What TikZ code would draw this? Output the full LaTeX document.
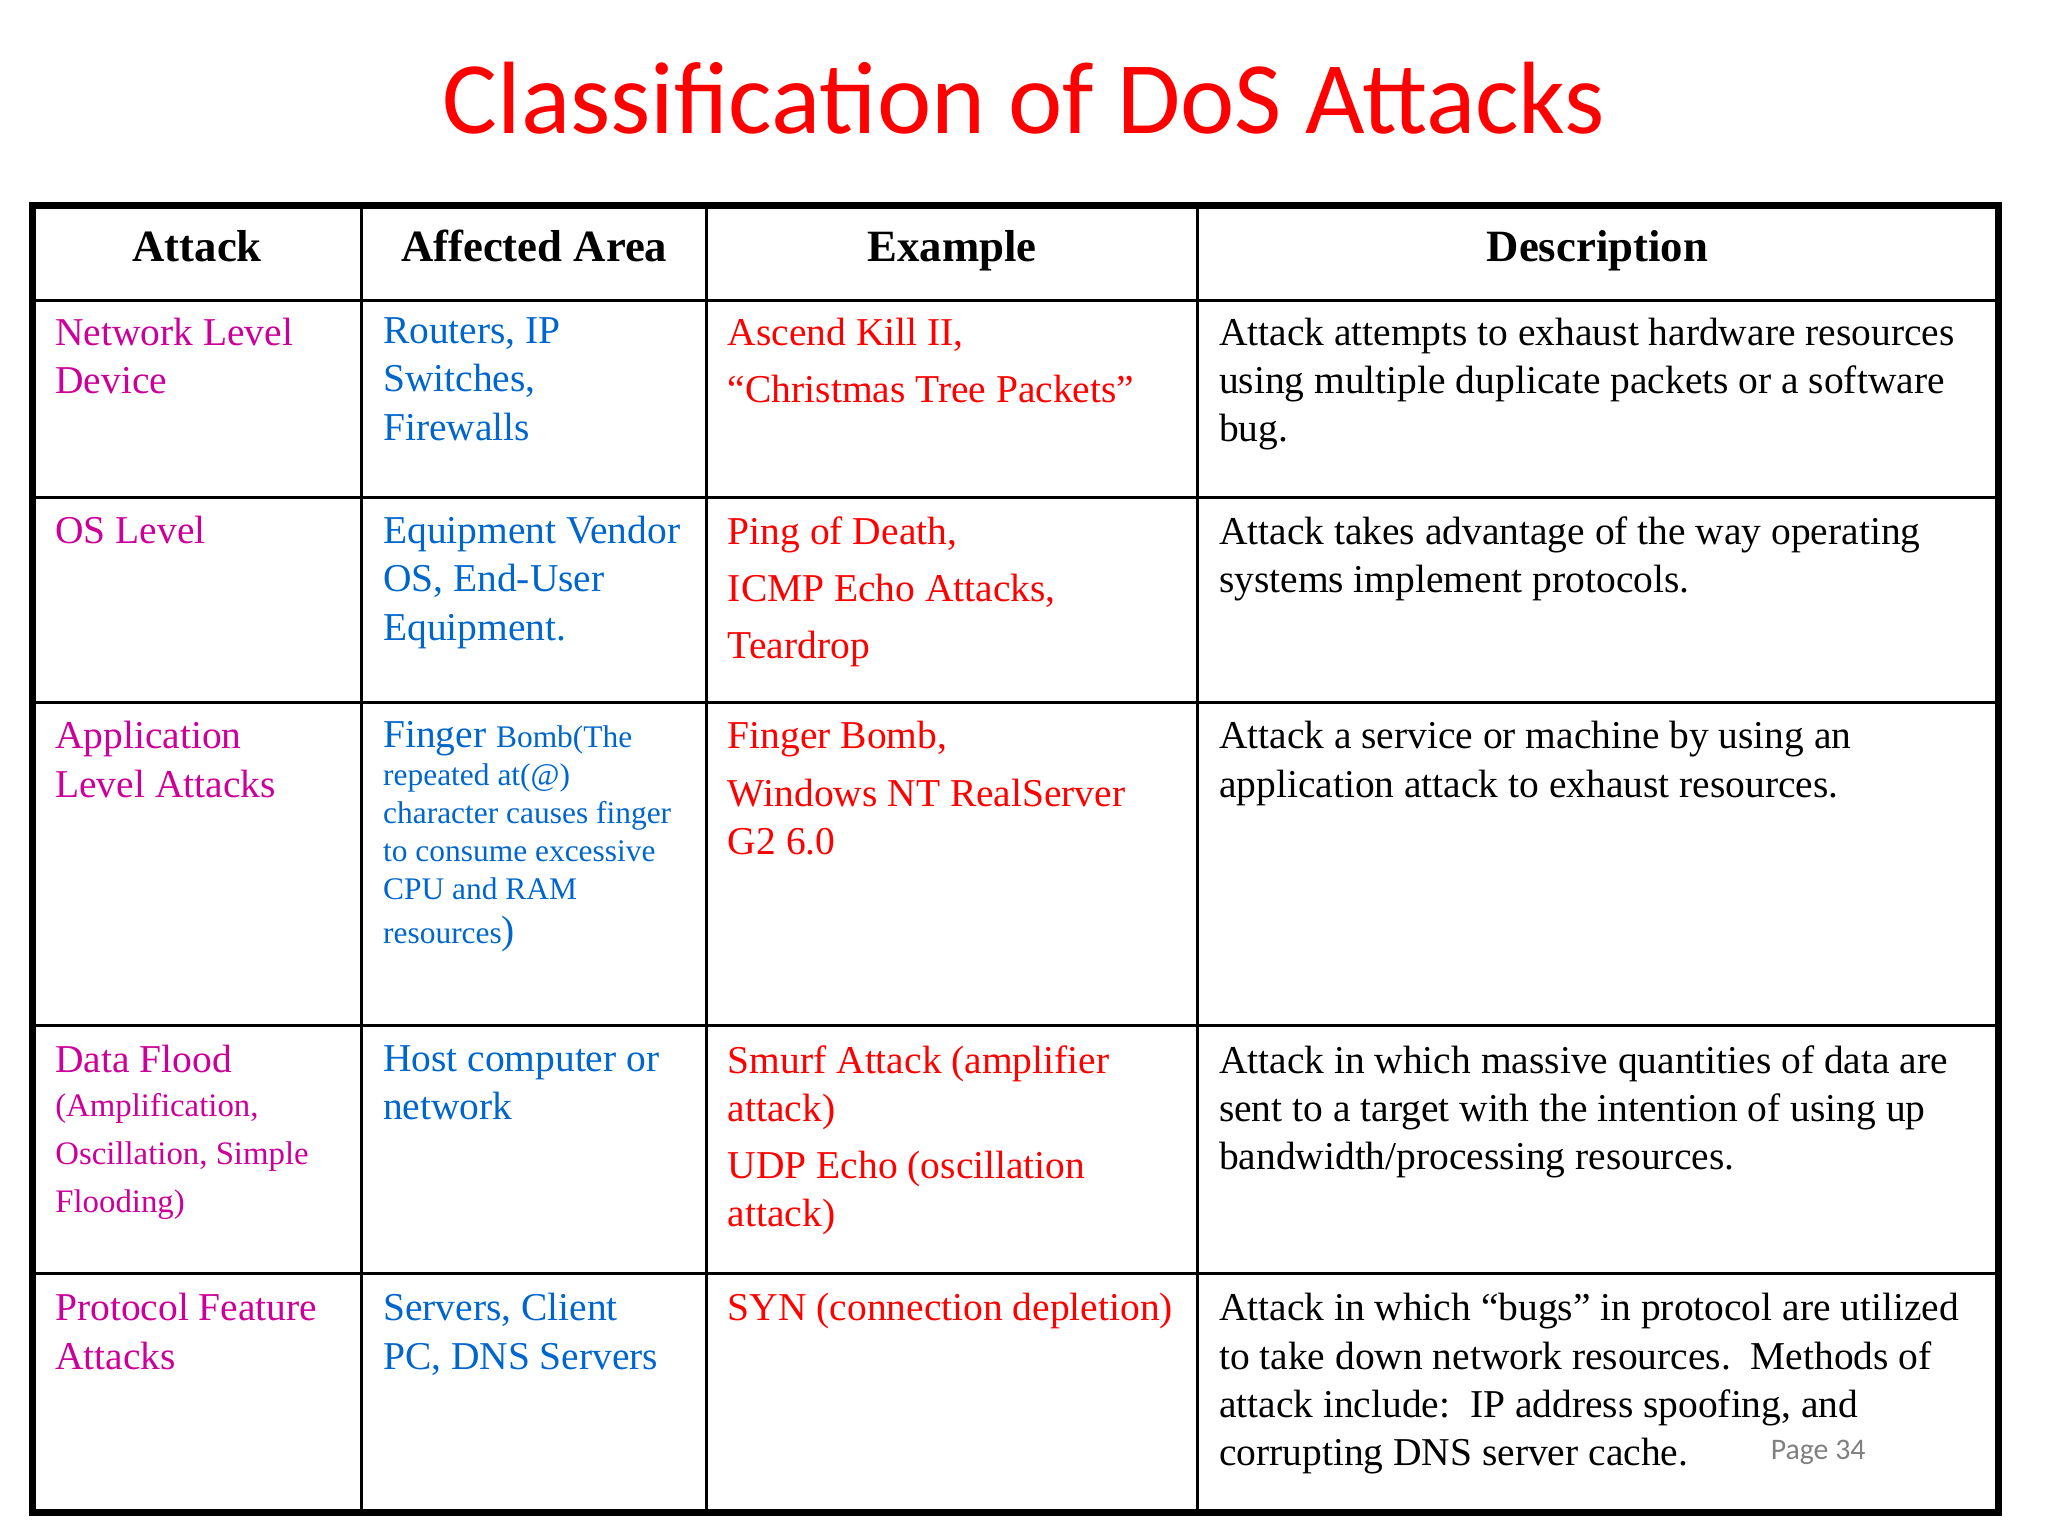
\documentclass[tikz,border=0pt]{standalone}
\usepackage{fontspec}
\setmainfont{Liberation Serif}
\newfontfamily\calfont{Carlito}
\definecolor{cmag}{RGB}{204,0,153}
\definecolor{cblue}{RGB}{0,102,204}
\definecolor{cred}{RGB}{255,0,0}
\newcommand{\bigf}{\fontsize{17.2}{16.5}\selectfont}
\newcommand{\smf}{\fontsize{13.7}{16.5}\selectfont}
\newcommand{\dff}{\fontsize{14.3}{17.5}\selectfont}
\begin{document}
\begin{tikzpicture}[x=0.02cm,y=-0.02cm,
  cell/.style={anchor=north west,inner sep=0pt,align=left,font=\fontsize{17.2}{21}\selectfont},
  ex/.style={cell,font=\fontsize{17.2}{25}\selectfont,text=cred},
  hd/.style={anchor=base,font=\fontsize{19.5}{20}\selectfont\bfseries},
  grid/.style={line width=1.2pt}]
\useasboundingbox (0,0) rectangle (1568,1176);
\node[font=\calfont\fontsize{44.8}{56}\selectfont,text=cred] (title) at (784,75) {Classification of DoS Attacks};
% grid
\draw[line width=3pt] (25,157) rectangle (1530,1158);
\foreach \x in {277,541,917} \draw[grid] (\x,157) -- (\x,1158);
\foreach \y in {230,381,538,785,975} \draw[grid] (25,\y) -- (1530,\y);
% headers
\node[hd] (h1) at (151,200) {Attack};
\node[hd] (h2) at (409,200) {Affected Area};
\node[hd] (h3) at (729,200) {Example};
\node[hd] (h4) at (1223,200) {Description};
% row 1
\node[cell,text=cmag] (a1) at (42,243) {Network Level\\Device};
\node[cell,text=cblue] (b1) at (293,243) {Routers, IP\\Switches,\\Firewalls};
\node[ex] (c1) at (557,243) {Ascend Kill II,\\``Christmas Tree Packets''};
\node[cell] (d1) at (933,243) {Attack attempts to exhaust hardware resources\\using multiple duplicate packets or a software\\bug.};
% row 2
\node[cell,text=cmag] (a2) at (42,395) {OS Level};
\node[cell,text=cblue] (b2) at (293,395) {Equipment Vendor\\OS, End-User\\Equipment.};
\node[ex] (c2) at (557,395) {Ping of Death,\\ICMP Echo Attacks,\\Teardrop};
\node[cell] (d2) at (933,395) {Attack takes advantage of the way operating\\systems implement protocols.};
% row 3
\node[cell,text=cmag] (a3) at (42,552) {Application\\Level Attacks};
\node[cell,text=cblue,font=\smf] (b3) at (293,552) {\bigf Finger \smf Bomb(The\\repeated at(@)\\character causes finger\\to consume excessive\\CPU and RAM\\[3pt]resources\bigf )};
\node[ex] (c3) at (557,552) {Finger Bomb,\\Windows NT RealServer\\[-4pt]G2 6.0};
\node[cell] (d3) at (933,552) {Attack a service or machine by using an\\application attack to exhaust resources.};
% row 4
\node[cell,text=cmag] (a4) at (42,800) {Data Flood\\[-2pt]\dff (Amplification,\\\dff Oscillation, Simple\\\dff Flooding)};
\node[cell,text=cblue] (b4) at (293,800) {Host computer or\\network};
\node[ex,font=\fontsize{17.2}{21}\selectfont] (c4) at (557,800) {Smurf Attack (amplifier\\attack)\\[4pt]UDP Echo (oscillation\\attack)};
\node[cell] (d4) at (933,800) {Attack in which massive quantities of data are\\sent to a target with the intention of using up\\bandwidth/processing resources.};
% row 5
\node[cell,text=cmag] (a5) at (42,990) {Protocol Feature\\Attacks};
\node[cell,text=cblue] (b5) at (293,990) {Servers, Client\\PC, DNS Servers};
\node[ex] (c5) at (557,990) {SYN (connection depletion)};
\node[cell] (d5) at (933,990) {Attack in which ``bugs'' in protocol are utilized\\to take down network resources.\ \ Methods of\\attack include:\ \ IP address spoofing, and\\corrupting DNS server cache.};
\node[font=\calfont\fontsize{13}{15}\selectfont,text=gray] (pg) at (1392,1112) {Page 34};
\end{tikzpicture}
\end{document}
